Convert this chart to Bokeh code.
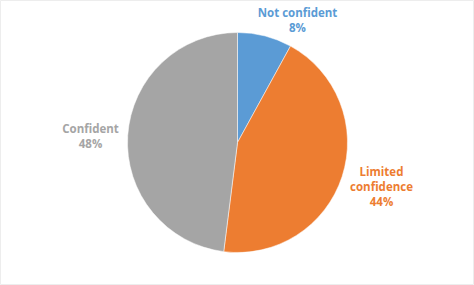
import numpy as np
from bokeh.plotting import figure
from bokeh.models import Range1d, ColumnDataSource
from bokeh.core.properties import value
from bokeh.embed import file_html
from bokeh.resources import INLINE

categories = ["Not confident", "Limited confidence", "Confident"]
shares = [8, 44, 48]
label_texts = ["Not confident\n8%", "Limited\nconfidence\n44%", "Confident\n48%"]
colors = ["#5B9BD5", "#ED7D31", "#A5A5A5"]

W, H = 474, 285
CX, CY, R = 237, H - 142, 110
label_pos = [(297, H - 19), (381, H - 186), (90, H - 135)]

vals = np.array(shares, dtype=float)
frac = vals / vals.sum()
cum = np.concatenate([[0], np.cumsum(frac)])
# clockwise from 12 o'clock
start = np.pi / 2 - cum[:-1] * 2 * np.pi
end = np.pi / 2 - cum[1:] * 2 * np.pi

p = figure(width=W, height=H, output_backend="svg", toolbar_location=None,
           x_range=Range1d(0, W), y_range=Range1d(0, H), min_border=0)
p.axis.visible = False
p.grid.visible = False
p.outline_line_color = "#EDEDED"
p.outline_line_width = 1
p.background_fill_color = "white"
p.border_fill_color = "white"

src = ColumnDataSource(dict(start=start, end=end, color=colors, cat=categories))
p.wedge(x=CX, y=CY, radius=R, start_angle="start", end_angle="end",
        direction="clock", fill_color="color", line_color="white",
        line_width=0.5, source=src)

lsrc = ColumnDataSource(dict(x=[q[0] for q in label_pos], y=[q[1] for q in label_pos],
                             text=label_texts, color=colors))
p.text(x="x", y="y", text="text", text_color="color", source=lsrc,
       text_align="center", text_baseline="middle",
       text_font=value("Open Sans"), text_font_style="bold",
       text_font_size="11.5px", text_line_height=1.0)

open("out.html", "w").write(file_html(p, INLINE))
